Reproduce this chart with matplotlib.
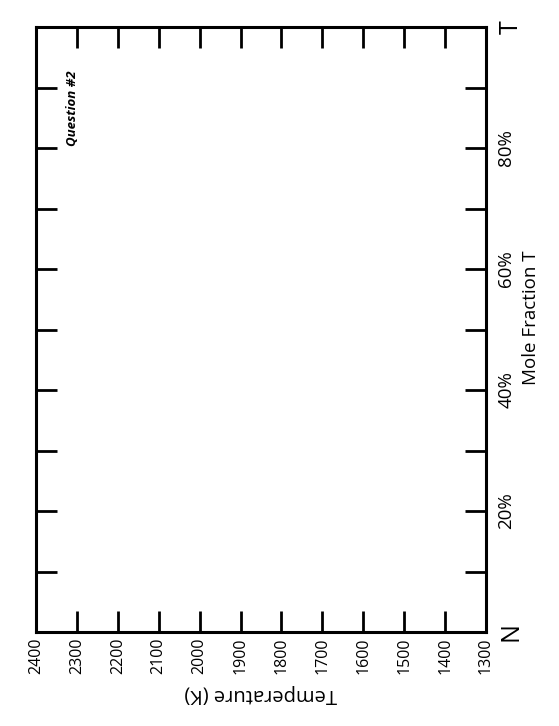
import matplotlib
matplotlib.use("Agg")
import matplotlib.pyplot as plt
import numpy as np

temps = [2400, 2300, 2200, 2100, 2000, 1900, 1800, 1700, 1600, 1500, 1400, 1300]
frac_ticks = [0.1, 0.2, 0.3, 0.4, 0.5, 0.6, 0.7, 0.8, 0.9]
frac_labels = {0.2: "20%", 0.4: "40%", 0.6: "60%", 0.8: "80%"}

W, H = 559, 726
fig = plt.figure(figsize=(W/100, H/100), dpi=100)
l, r, t, b = 36, 486, 27, 632
ax = fig.add_axes([l/W, 1-b/H, (r-l)/W, (b-t)/H])
ax.set_xlim(2400, 1300)
ax.set_ylim(0, 1)
for s in ax.spines.values():
    s.set_linewidth(2.2)
ax.set_xticks(temps)
ax.set_xticklabels([str(v) for v in temps], rotation=90, fontsize=11.5, family="Open Sans")
ax.set_yticks(frac_ticks)
ax.tick_params(axis="both", direction="in", length=15, width=2, top=True, right=True,
               left=True, labelleft=False, labelright=False)
ax.tick_params(axis="x", pad=4)
for v, s in frac_labels.items():
    ax.text(1.045, v, s, transform=ax.transAxes, rotation=90, ha="center", va="center",
            fontsize=13.5, family="Open Sans")
ax.text(1.1, 0.52, "Mole Fraction T", transform=ax.transAxes, rotation=90,
        ha="center", va="center", fontsize=13.5, family="Open Sans")
ax.text(1.055, 1.0, "T", transform=ax.transAxes, rotation=90, ha="center", va="center",
        fontsize=18, family="Open Sans")
ax.text(1.055, 0.0, "N", transform=ax.transAxes, rotation=90, ha="center", va="center",
        fontsize=18, family="Open Sans")
ax.text(0.5, -0.103, "Temperature (K)", transform=ax.transAxes, rotation=180,
        ha="center", va="center", fontsize=14.5, family="Open Sans")
ax.text(0.08, 0.865, "Question #2", transform=ax.transAxes, rotation=90, ha="center",
        va="center", fontsize=9.5, fontweight="bold", fontstyle="italic", family="Open Sans")
fig.savefig("out.png", dpi=100)
